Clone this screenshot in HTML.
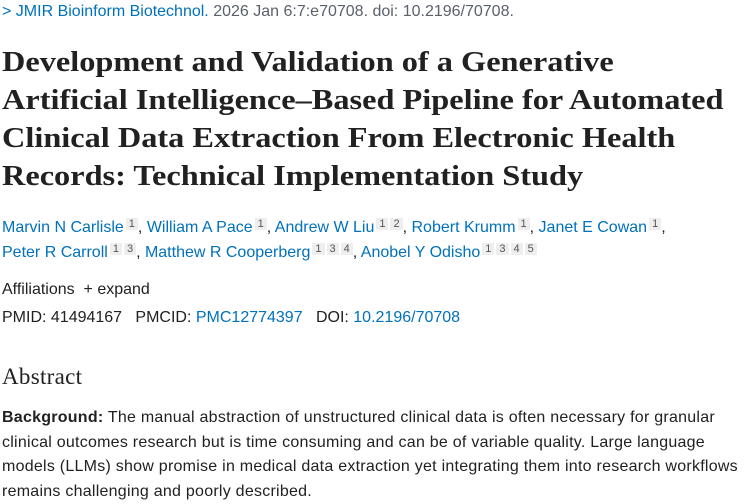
<!DOCTYPE html>
<html><head><meta charset="utf-8"><style>
body{margin:0;width:750px;height:500px;overflow:hidden;background:#fff;font-family:"Liberation Sans",sans-serif;color:#212121}
.a{position:absolute;left:2px;white-space:nowrap}
.l{color:#0071bc}
h1{position:absolute;left:2px;top:43px;margin:0;font-family:"Liberation Serif",serif;font-weight:bold;font-size:29px;line-height:38px;color:#212121;white-space:nowrap;transform-origin:0 0;transform:scaleX(1.115)}
sup{font-size:11px;background:#eee;color:#555;padding:0 3px;margin-left:2px;vertical-align:5px}
.t{font-size:16px}
h2{position:absolute;left:2px;top:364px;margin:0;font-family:"Liberation Serif",serif;font-weight:normal;font-size:23px;letter-spacing:0.3px}
.p{position:absolute;left:2px;top:406px;font-size:16px;line-height:24.6px;white-space:nowrap;letter-spacing:0.25px}
</style></head><body>
<div class="a t" style="top:3px;font-size:16px"><span class="l">&gt; JMIR Bioinform Biotechnol.</span> <span style="color:#5b616b">2026 Jan 6:7:e70708. doi: 10.2196/70708.</span></div>
<h1>Development and Validation of a Generative<br>Artificial Intelligence–Based Pipeline for Automated<br>Clinical Data Extraction From Electronic Health<br>Records: Technical Implementation Study</h1>
<div class="a t" style="top:218px"><span class="l">Marvin N Carlisle</span><sup>1</sup>, <span class="l">William A Pace</span><sup>1</sup>, <span class="l">Andrew W Liu</span><sup>1</sup><sup>2</sup>, <span class="l">Robert Krumm</span><sup>1</sup>, <span class="l">Janet E Cowan</span><sup>1</sup>,</div>
<div class="a t" style="top:243px"><span class="l">Peter R Carroll</span><sup>1</sup><sup>3</sup>, <span class="l">Matthew R Cooperberg</span><sup>1</sup><sup>3</sup><sup>4</sup>, <span class="l">Anobel Y Odisho</span><sup>1</sup><sup>3</sup><sup>4</sup><sup>5</sup></div>
<div class="a t" style="top:281px">Affiliations &nbsp;+ expand</div>
<div class="a t" style="top:309px">PMID: 41494167 &nbsp;&nbsp;PMCID: <span class="l">PMC12774397</span> &nbsp;&nbsp;DOI: <span class="l">10.2196/70708</span></div>
<h2>Abstract</h2>
<div class="p"><b>Background:</b> The manual abstraction of unstructured clinical data is often necessary for granular<br>clinical outcomes research but is time consuming and can be of variable quality. Large language<br>models (LLMs) show promise in medical data extraction yet integrating them into research workflows<br>remains challenging and poorly described.</div>
</body></html>
